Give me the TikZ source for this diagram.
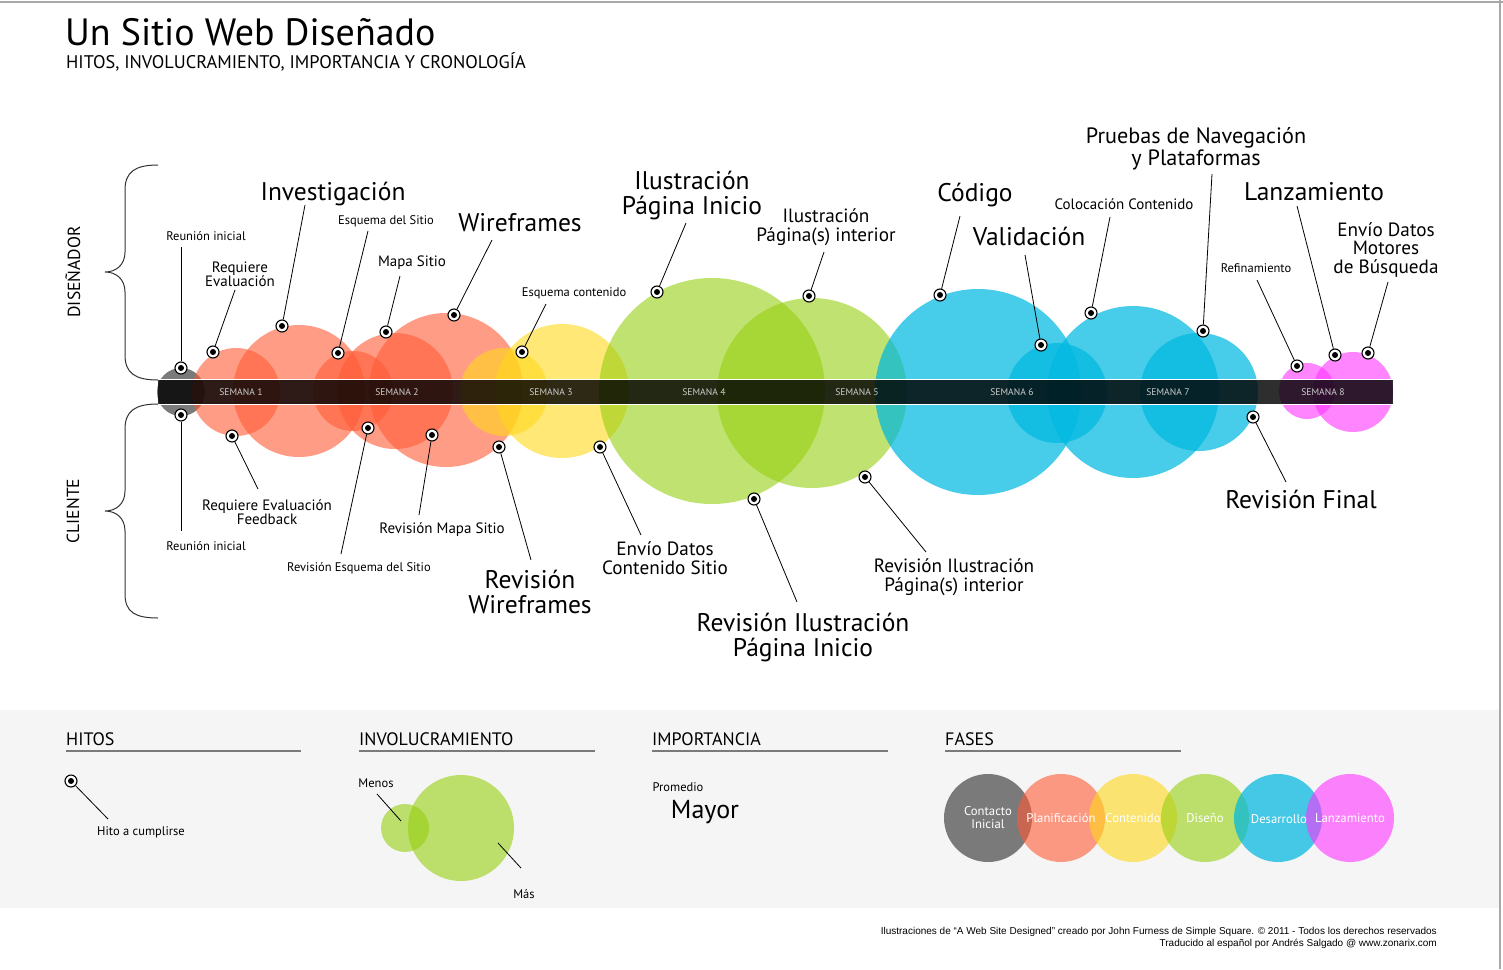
\documentclass[tikz,border=0pt]{standalone}
\usepackage{fontspec}
\setmainfont{PT Sans}
\newfontfamily\arialfont{Liberation Sans}
\usetikzlibrary{positioning}

\definecolor{gris}{HTML}{7A7A7A}
\definecolor{rojo}{HTML}{FF5A36}
\definecolor{amarillo}{HTML}{FFD81A}
\definecolor{verde}{HTML}{96CF10}
\definecolor{azul}{HTML}{00B8E0}
\definecolor{rosa}{HTML}{FF33FF}
\definecolor{fondo}{HTML}{F5F5F5}
\definecolor{borde}{HTML}{A8A8A8}
\definecolor{llave}{HTML}{333333}

\begin{document}
\begin{tikzpicture}[x=1pt,y=-1pt,
    hito/.style={circle,draw,fill=white,line width=1.1pt,minimum size=12pt,inner sep=0pt,
      path picture={\fill[black] (path picture bounding box.center) circle (3pt);}},
    conn/.style={black,line width=0.8pt},
    burbuja/.style={fill=#1,fill opacity=0.6},
    grande/.style={font=\fontsize{25.5}{25}\selectfont,align=center,inner sep=0pt},
    medio/.style={font=\fontsize{19.2}{18.5}\selectfont,align=center,inner sep=0pt},
    chico/.style={font=\fontsize{15}{14}\selectfont,align=center,inner sep=0pt},
    mini/.style={font=\fontsize{12.5}{12}\selectfont,align=center,inner sep=0pt},
    semana/.style={font=\fontsize{9.6}{9.6}\selectfont,text=black!20,inner sep=0pt},
    titulo/.style={font=\fontsize{18}{18}\selectfont,anchor=base west,inner sep=0pt},
    fase/.style={font=\fontsize{12.7}{13}\selectfont,text=white,align=center,inner sep=0pt}]

  \useasboundingbox (0,0) rectangle (1503,969);

  % marco
  \draw[borde,line width=1.5pt] (0,2) -- (1503,2);
  \draw[borde,line width=2pt] (1500,0) -- (1500,969);

  % titulo
  \node[anchor=base west,inner sep=0pt,font=\fontsize{38}{38}\selectfont] (tit) at (65,45) {Un Sitio Web Diseñado};
  \node[titulo,font=\fontsize{18.3}{18}\selectfont] (sub) at (66,68) {HITOS, INVOLUCRAMIENTO, IMPORTANCIA Y CRONOLOGÍA};

  % llaves
  \draw[llave,line width=1pt] (158,165) .. controls (135,165) and (125,172) .. (125,190) -- (125,252)
    .. controls (125,265) and (116,272) .. (105,272) .. controls (116,272) and (125,279) .. (125,292)
    -- (125,355) .. controls (125,373) and (135,380) .. (158,380);
  \draw[llave,line width=1pt] (158,404) .. controls (135,404) and (125,411) .. (125,429) -- (125,491)
    .. controls (125,504) and (116,511) .. (105,511) .. controls (116,511) and (125,518) .. (125,531)
    -- (125,594) .. controls (125,612) and (135,618) .. (158,618);
  \node[rotate=90,font=\fontsize{17.5}{17}\selectfont] (dis) at (73,272) {DISEÑADOR};
  \node[rotate=90,font=\fontsize{17.5}{17}\selectfont] (cli) at (73,511) {CLIENTE};

  % burbujas
  \fill[gris] (181,392) circle[radius=24pt];
  \fill[burbuja=rojo] (236,392) circle[radius=44pt];
  \fill[burbuja=rojo] (299,391) circle[radius=66pt];
  \fill[burbuja=rojo] (353,391) circle[radius=40pt];
  \fill[burbuja=rojo] (395,391) circle[radius=58pt];
  \fill[burbuja=rojo] (446,390) circle[radius=77pt];
  \fill[burbuja=amarillo] (504,392) circle[radius=44pt];
  \fill[burbuja=amarillo] (562,391) circle[radius=67pt];
  \fill[burbuja=verde] (712,391) circle[radius=113pt];
  \fill[burbuja=verde] (812,393) circle[radius=95pt];
  \fill[azul,fill opacity=0.72] (978,392) circle[radius=103pt];
  \fill[azul,fill opacity=0.72] (1057,393) circle[radius=50pt];
  \fill[azul,fill opacity=0.72] (1133,392) circle[radius=86pt];
  \fill[azul,fill opacity=0.72] (1199,392) circle[radius=59pt];
  \fill[burbuja=rosa] (1307,391) circle[radius=28pt];
  \fill[burbuja=rosa] (1353,392) circle[radius=40pt];

  % linea de tiempo
  \fill[black,fill opacity=0.82] (158,380) rectangle (1393,404);
  \draw[white,line width=1.6pt] (158,379.5) -- (1393,379.5);
  \draw[white,line width=1.6pt] (158,404.5) -- (1393,404.5);
  \node[semana] (s1) at (241,392) {SEMANA 1};
  \node[semana] (s2) at (397,392) {SEMANA 2};
  \node[semana] (s3) at (551,392) {SEMANA 3};
  \node[semana] (s4) at (704,392) {SEMANA 4};
  \node[semana] (s5) at (857,392) {SEMANA 5};
  \node[semana] (s6) at (1012,392) {SEMANA 6};
  \node[semana] (s7) at (1168,392) {SEMANA 7};
  \node[semana] (s8) at (1323,392) {SEMANA 8};

  % hitos del diseñador
  \node[mini] (l1) at (206,236) {Reunión inicial};
  \node[chico] (l2) at (240,274) {Requiere\\Evaluación};
  \node[grande] (l3) at (333,194) {Investigación};
  \node[mini] (l4) at (386,221) {Esquema del Sitio};
  \node[chico] (l5) at (412,263) {Mapa Sitio};
  \node[grande] (l6) at (520,223) {Wireframes};
  \node[mini] (l7) at (574,293) {Esquema contenido};
  \node[grande] (l8) at (692,196) {Ilustración\\Página Inicio};
  \node[medio] (l9) at (826,227) {Ilustración\\Página(s) interior};
  \node[grande] (l10) at (975,195) {Código};
  \node[grande] (l11) at (1029,236) {Validación};
  \node[chico] (l12) at (1124,204) {Colocación Contenido};
  \node[font=\fontsize{22.2}{22}\selectfont,align=center,inner sep=0pt] (l13) at (1196,149) {Pruebas de Navegación\\y Plataformas};
  \node[mini] (l14) at (1256,268) {Refinamiento};
  \node[grande] (l15) at (1314,192) {Lanzamiento};
  \node[medio] (l16) at (1386,250) {Envío Datos\\Motores\\de Búsqueda};

  \node[hito] (h1) at (181,368) {};
  \node[hito] (h2) at (213,352) {};
  \node[hito] (h3) at (282,326) {};
  \node[hito] (h4) at (338,353) {};
  \node[hito] (h5) at (386,332) {};
  \node[hito] (h6) at (454,315) {};
  \node[hito] (h7) at (522,352) {};
  \node[hito] (h8) at (657,292) {};
  \node[hito] (h9) at (809,296) {};
  \node[hito] (h10) at (940,295) {};
  \node[hito] (h11) at (1041,345) {};
  \node[hito] (h12) at (1091,313) {};
  \node[hito] (h13) at (1203,331) {};
  \node[hito] (h14) at (1297,366) {};
  \node[hito] (h15) at (1335,355) {};
  \node[hito] (h16) at (1368,353) {};

  \coordinate (e1) at (181,247);
  \coordinate (e2) at (235,290);
  \coordinate (e3) at (305,205);
  \coordinate (e4) at (368,231);
  \coordinate (e5) at (400,276);
  \coordinate (e6) at (492,240);
  \coordinate (e7) at (546,304);
  \coordinate (e8) at (686,223);
  \coordinate (e9) at (824,252);
  \coordinate (e10) at (960,216);
  \coordinate (e11) at (1025,255);
  \coordinate (e12) at (1110,217);
  \coordinate (e13) at (1212,174);
  \coordinate (e14) at (1257,280);
  \coordinate (e15) at (1297,206);
  \coordinate (e16) at (1388,282);

  \path[conn] (h1) edge (e1) (h2) edge (e2) (h3) edge (e3) (h4) edge (e4)
    (h5) edge (e5) (h6) edge (e6) (h7) edge (e7) (h8) edge (e8)
    (h9) edge (e9) (h10) edge (e10) (h11) edge (e11) (h12) edge (e12)
    (h13) edge (e13) (h14) edge (e14) (h15) edge (e15) (h16) edge (e16);

  % hitos del cliente
  \node[mini] (l17) at (206,546) {Reunión inicial};
  \node[chico] (l18) at (267,512) {Requiere Evaluación\\Feedback};
  \node[mini] (l19) at (359,568) {Revisión Esquema del Sitio};
  \node[chico] (l20) at (442,530) {Revisión Mapa Sitio};
  \node[grande] (l21) at (530,592) {Revisión\\Wireframes};
  \node[medio] (l22) at (665,558) {Envío Datos\\Contenido Sitio};
  \node[grande] (l23) at (803,638) {Revisión Ilustración\\Página Inicio};
  \node[medio] (l24) at (954,577) {Revisión Ilustración\\Página(s) interior};
  \node[grande] (l25) at (1301,499) {Revisión Final};

  \node[hito] (h17) at (181,415) {};
  \node[hito] (h18) at (232,436) {};
  \node[hito] (h19) at (368,428) {};
  \node[hito] (h20) at (432,435) {};
  \node[hito] (h21) at (499,447) {};
  \node[hito] (h22) at (600,447) {};
  \node[hito] (h23) at (754,499) {};
  \node[hito] (h24) at (865,477) {};
  \node[hito] (h25) at (1253,417) {};

  \coordinate (e17) at (181,531);
  \coordinate (e18) at (258,489);
  \coordinate (e19) at (341,554);
  \coordinate (e20) at (419,515);
  \coordinate (e21) at (531,560);
  \coordinate (e22) at (641,535);
  \coordinate (e23) at (797,602);
  \coordinate (e24) at (926,552);
  \coordinate (e25) at (1286,482);

  \path[conn] (h17) edge (e17) (h18) edge (e18) (h19) edge (e19) (h20) edge (e20)
    (h21) edge (e21) (h22) edge (e22) (h23) edge (e23) (h24) edge (e24) (h25) edge (e25);

  % leyenda
  \fill[fondo] (0,710) rectangle (1499,908);
  \node[titulo] (t1) at (66,745) {HITOS};
  \node[titulo] (t2) at (359,745) {INVOLUCRAMIENTO};
  \node[titulo] (t3) at (652,745) {IMPORTANCIA};
  \node[titulo] (t4) at (945,745) {FASES};
  \draw[gris,line width=1.3pt] (66,751) -- (301,751);
  \draw[gris,line width=1.3pt] (359,751) -- (595,751);
  \draw[gris,line width=1.3pt] (652,751) -- (888,751);
  \draw[gris,line width=1.3pt] (945,751) -- (1181,751);

  \node[hito] (h26) at (71,781) {};
  \coordinate (e26) at (108,819);
  \node[mini] (hc) at (141,832) {Hito a cumplirse};
  \path[conn] (h26) edge (e26);

  \fill[burbuja=verde] (405,828) circle[radius=24pt];
  \fill[burbuja=verde] (461,828) circle[radius=53pt];
  \node[mini] (menos) at (376,783) {Menos};
  \node[mini] (mas) at (524,894) {Más};
  \coordinate (m1) at (377,794);
  \coordinate (m2) at (401,821);
  \coordinate (m3) at (498,843);
  \coordinate (m4) at (521,868);
  \path[conn] (m1) edge (m2) (m3) edge (m4);

  \node[mini] (prom) at (678,787) {Promedio};
  \node[font=\fontsize{26}{26}\selectfont,inner sep=0pt] (may) at (705,812) {Mayor};

  \fill[gris] (988,818) circle[radius=44pt];
  \fill[burbuja=rojo] (1061,818) circle[radius=44pt];
  \fill[burbuja=amarillo] (1133,818) circle[radius=44pt];
  \fill[burbuja=verde] (1205,818) circle[radius=44pt];
  \fill[azul,fill opacity=0.72] (1278,818) circle[radius=44pt];
  \fill[burbuja=rosa] (1350,818) circle[radius=44pt];
  \node[fase] (f1) at (988,818) {Contacto\\Inicial};
  \node[fase] (f2) at (1061,818) {Planificación};
  \node[fase] (f3) at (1133,818) {Contenido};
  \node[fase] (f4) at (1205,818) {Diseño};
  \node[fase] (f5) at (1279,819) {Desarrollo};
  \node[fase] (f6) at (1350,818) {Lanzamiento};

  % pie
  \node[anchor=north east,align=right,inner sep=0pt,font=\arialfont\fontsize{10}{12}\selectfont] (pie) at (1437,927)
    {Ilustraciones de “A Web Site Designed” creado por John Furness de Simple Square. © 2011 - Todos los derechos reservados\\
     Traducido al español por Andrés Salgado @ www.zonarix.com};
\end{tikzpicture}
\end{document}
